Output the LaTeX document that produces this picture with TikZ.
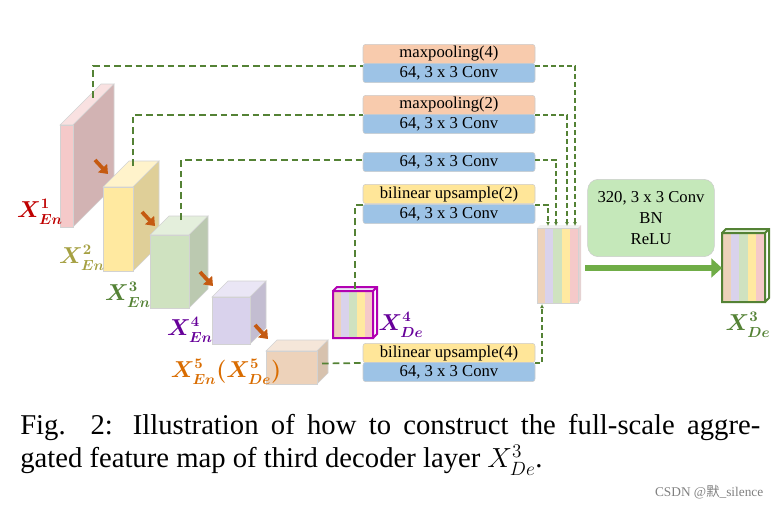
\documentclass[tikz,border=0pt]{standalone}
\usepackage{amsmath}
\usepackage{fontspec}
\setmainfont{Liberation Serif}
\newfontfamily\cjk{Noto Sans CJK SC}
\usetikzlibrary{calc}
\usetikzlibrary{positioning}
\usetikzlibrary{arrows.meta}
\definecolor{dgreen}{HTML}{548235}
\definecolor{lgreen}{HTML}{70AD47}
\definecolor{obox}{HTML}{F8CBAD}
\definecolor{bbox}{HTML}{9DC3E6}
\definecolor{ybox}{HTML}{FFE699}
\definecolor{arr}{HTML}{C55A11}
\definecolor{cpeach}{HTML}{EDD2BA}
\definecolor{clav}{HTML}{D9D2EC}
\definecolor{cgreen}{HTML}{CFE2C0}
\definecolor{cyel}{HTML}{FFE9A0}
\definecolor{cpink}{HTML}{F5C9C9}
% feature map: name, left, top, right, bottom, depth, front, side
\newcommand\fmap[8]{%
  \fill[#7!55!white,draw=gray!35] (#2,#3) -- ({#2+#6},{#3-#6}) -- ({#4+#6},{#3-#6}) -- (#4,#3) -- cycle;
  \fill[#8,draw=gray!35] (#4,#3) -- ({#4+#6},{#3-#6}) -- ({#4+#6},{#5-#6}) -- (#4,#5) -- cycle;
  \fill[#7,draw=gray!35] (#2,#3) rectangle (#4,#5);
  \coordinate (#1) at ({(#2+#4)/2},{(#3+#5)/2});
}
% striped map: left, top, width, height
\newcommand\stripes[4]{%
  \foreach \c [count=\i from 0] in {cpeach,clav,cgreen,cyel,cpink}
    \fill[\c] ({#1+\i*#3/5},#2) rectangle ++({#3/5},#4);
}
\newcommand\fm[2]{$\boldsymbol{X^{#1}_{#2}}$}
\begin{document}
\begin{tikzpicture}[x=0.75pt,y=-0.75pt,
    box/.style={draw=gray!40,rounded corners=2pt,minimum width=129pt,
                minimum height=14.5pt,inner sep=0pt,font=\fontsize{12.5}{12.5}\selectfont},
    skip/.style={dgreen,dashed,line width=1.3pt,dash pattern=on 5pt off 3pt},
    down/.style={-{Latex[length=3pt,width=3pt]},dgreen,dashed,line width=1.1pt,dash pattern=on 4pt off 2pt},
    lbl/.style={font=\fontsize{16}{16}\selectfont,inner sep=1pt}]
\useasboundingbox (0,0) rectangle (782,508);
% encoder maps
\fmap{e1}{60}{125}{73}{227}{41}{cpink}{cpink!70!gray}
\fmap{e2}{103}{187}{133}{271}{26}{cyel}{cyel!75!gray}
\fmap{e3}{150}{235}{189}{308}{19}{cgreen}{cgreen!75!gray}
\fmap{e4}{212}{297}{250}{344}{16}{clav}{clav!75!gray}
\fmap{e5}{266}{351}{317}{384}{11}{cpeach}{cpeach!80!gray}
\foreach \a/\b in {95/160,142/212,200/272,255/325}
  \draw[arr,line width=2.8pt,-{Triangle[length=6pt,width=9pt]}] (\a,\b) -- ++(13,14);
\node[lbl,text=red!75!black] (le1) at (40,212) {\fm{1}{En}};
\node[lbl,text=yellow!60!black] (le2) at (82,258) {\fm{2}{En}};
\node[lbl,text=dgreen] (le3) at (128,295) {\fm{3}{En}};
\node[lbl,text=violet!80!blue] (le4) at (190,330) {\fm{4}{En}};
\node[lbl,text=orange!85!black] (le5) at (226,372) {\fm{5}{En}$\boldsymbol{(}$\fm{5}{De}$\boldsymbol{)}$};
% decoder map 4
\fill[clav!50!white] (333,291) -- (337,287) -- (377,287) -- (373,291) -- cycle;
\stripes{333}{291}{40}{47}
\draw[violet!60!magenta,line width=1.5pt] (333,291) rectangle (373,338)
  (333,291) -- (337,287) -- (377,287) -- (377,334) -- (373,338) (373,291) -- (377,287);
\coordinate (d4) at (355,289);
\node[lbl,text=violet!80!blue] (ld4) at (401,325) {\fm{4}{De}};
% operation boxes
\node[box,fill=obox] (p4) at (449,54) {maxpooling(4)};
\node[box,fill=bbox] (c1) at (449,73) {64, 3 x 3 Conv};
\node[box,fill=obox] (p2) at (449,105) {maxpooling(2)};
\node[box,fill=bbox] (c2) at (449,124) {64, 3 x 3 Conv};
\node[box,fill=bbox] (c3) at (449,162) {64, 3 x 3 Conv};
\node[box,fill=ybox] (u2) at (449,194) {bilinear upsample(2)};
\node[box,fill=bbox] (c4) at (449,214) {64, 3 x 3 Conv};
\node[box,fill=ybox] (u4) at (449,353) {bilinear upsample(4)};
\node[box,fill=bbox] (c5) at (449,372) {64, 3 x 3 Conv};
% concatenated map
\fill[gray!10] (537,228) -- (540,225) -- (581,225) -- (578,228) -- cycle;
\fill[pink!60!gray!50] (578,228) -- (581,225) -- (581,300) -- (578,303) -- cycle;
\stripes{537}{228}{41}{75}
\draw[gray!35] (537,228) rectangle (578,303);
\coordinate (cat) at (557,265);
% skip connections
\draw[skip] (93,98) |- (363,66);
\draw[skip] (133,166) |- (363,115);
\draw[skip] (181,220) |- (363,160);
\draw[skip] (d4) |- (363,205);
\draw[skip] (e5 -| 322,0) ++(0,-4) -- (363,363);
\draw[down] (535,66) -| (575,226);
\draw[down] (535,115) -| (567,226);
\draw[down] (535,160) -| (556,226);
\draw[down] (535,205) -| (548,226);
\draw[down] (535,363) -| (542,304);
% fusion
\node[draw=gray!40,fill=green!20!lgreen!35,rounded corners=8pt,minimum width=95pt,
      minimum height=58pt,align=center,font=\fontsize{12.5}{16}\selectfont] (fuse) at (651,218)
      {320, 3 x 3 Conv\\BN\\ReLU};
\fill[cgreen!60!white] (722,233) -- (726,229) -- (769,229) -- (765,233) -- cycle;
\stripes{722}{233}{43}{69}
\draw[dgreen,line width=1.5pt] (722,233) rectangle (765,302)
  (722,233) -- (726,229) -- (769,229) -- (769,298) -- (765,302) (765,233) -- (769,229);
\coordinate (out) at (722,268);
\draw[lgreen,line width=5pt,-{Triangle[length=8pt,width=14pt]}] (585,268) -- (out);
\node[lbl,text=dgreen] (ld3) at (748,325) {\fm{3}{De}};
% caption
\node[text width=555pt,align=justify,anchor=north west,inner sep=0pt,
      font=\fontsize{21.5}{25}\selectfont] (cap) at (20,414)
  {Fig. 2: Illustration of how to construct the full-scale aggre-\linebreak
   gated feature map of third decoder layer $X^3_{De}$.};
\node[anchor=east,text=gray,font=\fontsize{10}{10}\selectfont] (wm) at (768,492) {CSDN @{\cjk 默}\_silence};
\end{tikzpicture}
\end{document}
